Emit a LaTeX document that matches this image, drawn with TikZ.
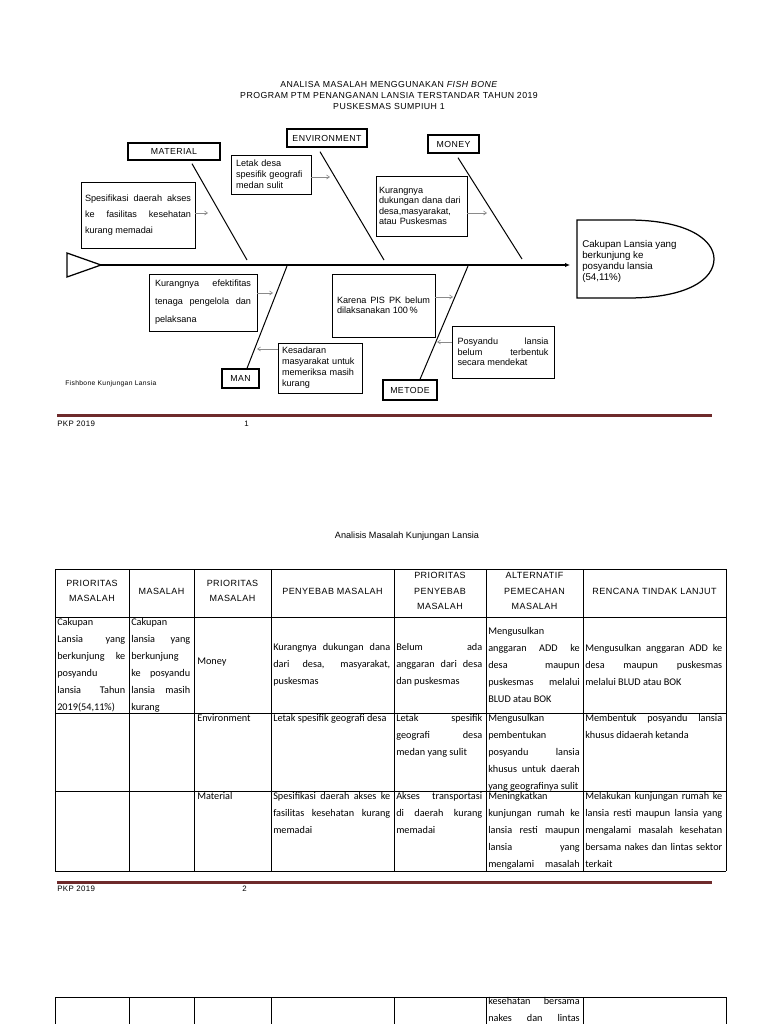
\documentclass[tikz,border=0pt]{standalone}
\usepackage{fontspec}
\setmainfont{Liberation Sans}
\newfontfamily\tableFont{Carlito}
\newfontfamily\spacedFont{Liberation Sans}[LetterSpace=5]
\usetikzlibrary{arrows.meta}
\definecolor{footerRed}{HTML}{6E2A2B}
\definecolor{arrowGray}{HTML}{8A8A8A}
\tolerance=9999
\hbadness=10000

\tikzset{
  catBox/.style={draw, line width=1.1pt, inner sep=0pt,
    font=\spacedFont\fontsize{7}{8}\selectfont},
  causeBox/.style={draw, line width=0.6pt, inner sep=0pt, align=justify,
    font=\fontsize{7.3}{8.8}\selectfont},
  bone/.style={line width=0.8pt},
  causeArrow/.style={draw=arrowGray, line width=0.5pt,
    -{Straight Barb[length=2.4pt,width=3.2pt]}},
  gridLine/.style={line width=0.8pt},
  headCell/.style={align=center, inner sep=0pt,
    font=\spacedFont\fontsize{7.2}{12.6}\selectfont},
  bodyCell/.style={align=justify, inner sep=0pt,
    font=\tableFont\fontsize{8.2}{13.6}\selectfont},
  pageRule/.style={draw=footerRed, line width=2.4pt},
  pageNote/.style={anchor=west, inner sep=0pt,
    font=\spacedFont\fontsize{6.3}{7}\selectfont}
}

\begin{document}
\begin{tikzpicture}[x=0.8pt, y=-0.8pt]
  \fill[white] (0,0) rectangle (768,1024);
  \useasboundingbox (0,0) rectangle (768,1024);

  % page 1: fishbone
  \node[align=center, inner sep=0pt, font=\spacedFont\fontsize{7}{8.8}\selectfont] (titleText) at (389,95)
    {ANALISA MASALAH MENGGUNAKAN \textit{FISH BONE}\\
     PROGRAM PTM PENANGANAN LANSIA TERSTANDAR TAHUN 2019\\
     PUSKESMAS SUMPIUH 1};

  \draw[line width=1pt] (67,253) -- (101,265) -- (67,277) -- cycle;
  \coordinate (tailTip) at (101,265);
  \coordinate (headLeft) at (577,265);
  \draw[line width=1.1pt, -{Latex[length=4pt,width=3.6pt]}, shorten >=5.6pt] (tailTip) -- (headLeft);

  \draw[line width=1pt] (577,220) -- (628,220)
    .. controls (688,220) and (714,240) .. (714,259)
    .. controls (714,279) and (688,298) .. (628,298)
    -- (577,298) -- cycle;
  \node[anchor=west, align=left, inner sep=0pt, font=\fontsize{7.8}{8.8}\selectfont] (effectText) at (582,261)
    {Cakupan Lansia yang\\berkunjung ke\\posyandu lansia\\(54,11\%)};

  \node[catBox, minimum width=73.6pt, minimum height=13.6pt] (matBox) at (174,151.5) {MATERIAL};
  \node[catBox, minimum width=64pt, minimum height=14.4pt] (envBox) at (327,138) {ENVIRONMENT};
  \node[catBox, minimum width=40.8pt, minimum height=14.4pt] (monBox) at (453.5,144) {MONEY};
  \node[catBox, minimum width=29.6pt, minimum height=15.2pt] (manBox) at (240.5,378.5) {MAN};
  \node[catBox, minimum width=43.2pt, minimum height=16pt] (metBox) at (410,390) {METODE};

  \coordinate (matRoot) at (247,260);
  \coordinate (envRoot) at (384,260);
  \coordinate (monRoot) at (522,259);
  \coordinate (manRoot) at (287,266);
  \coordinate (metRoot) at (468,266);
  \draw[bone] ([xshift=14.4pt,yshift=-2.4pt]matBox.south) -- (matRoot);
  \draw[bone] ([xshift=-5.6pt,yshift=-3.2pt]envBox.south) -- (envRoot);
  \draw[bone] ([xshift=3.6pt,yshift=-3.2pt]monBox.south) -- (monRoot);
  \draw[bone] (manRoot) -- ([xshift=5.2pt]manBox.north);
  \draw[bone] (metRoot) -- ([xshift=8pt]metBox.north);

  \node[causeBox, minimum width=91.2pt, minimum height=52.8pt, text width=84.8pt,
        font=\fontsize{7.3}{12.8}\selectfont] (spesBox) at (138,215)
    {Spesifikasi daerah akses\linebreak ke fasilitas kesehatan\linebreak kurang memadai};
  \node[causeBox, align=left, minimum width=64pt, minimum height=31.2pt, text width=56pt] (letakBox) at (271,174.5)
    {Letak desa\\spesifik geografi\\medan sulit};
  \node[causeBox, align=left, minimum width=72.8pt, minimum height=48pt, text width=68pt,
        font=\fontsize{7.3}{8.4}\selectfont] (kurBox) at (421.5,206)
    {Kurangnya\\dukungan dana dari\\desa,masyarakat,\\atau Puskesmas};
  \node[causeBox, minimum width=86.4pt, minimum height=45.6pt, text width=76.8pt,
        font=\fontsize{7.3}{14.4}\selectfont] (efekBox) at (203,302.5)
    {Kurangnya efektifitas\linebreak tenaga pengelola dan\linebreak pelaksana};
  \node[causeBox, minimum width=82.4pt, minimum height=50.4pt, text width=74.4pt,
        font=\fontsize{7.3}{8.2}\selectfont] (karenaBox) at (383.5,305.5)
    {Karena PIS PK belum\linebreak dilaksanakan 100\,\%};
  \node[causeBox, align=left, minimum width=67.2pt, minimum height=40pt, text width=60.8pt] (kesBox) at (320,368)
    {Kesadaran\\masyarakat untuk\\memeriksa masih\\kurang};
  \node[causeBox, minimum width=81.6pt, minimum height=41.6pt, text width=72.8pt,
        font=\fontsize{7.3}{8.4}\selectfont] (posBox) at (503,352)
    {Posyandu lansia\linebreak belum terbentuk\linebreak secara mendekat};

  \coordinate (spesHit) at (208,213);
  \coordinate (letakHit) at (330,177);
  \coordinate (kurHit) at (487,213);
  \coordinate (efekHit) at (273,293);
  \coordinate (karenaHit) at (453,297);
  \coordinate (kesHit) at (257,349);
  \coordinate (posHit) at (437,342);
  \draw[causeArrow] (spesBox.east |- spesHit) -- (spesHit);
  \draw[causeArrow] (letakBox.east |- letakHit) -- (letakHit);
  \draw[causeArrow] (kurBox.east |- kurHit) -- (kurHit);
  \draw[causeArrow] (efekBox.east |- efekHit) -- (efekHit);
  \draw[causeArrow] (karenaBox.east |- karenaHit) -- (karenaHit);
  \draw[causeArrow] (kesBox.west |- kesHit) -- (kesHit);
  \draw[causeArrow] (posBox.west |- posHit) -- (posHit);

  \node[anchor=west, inner sep=0pt, font=\spacedFont\fontsize{5.4}{6}\selectfont] (fishNote) at (65,384)
    {Fishbone Kunjungan Lansia};

  \draw[pageRule] (57,415) -- (712,415);
  \node[pageNote] (pkpOne) at (57,424) {PKP 2019};
  \node[pageNote] (pageOne) at (244,424) {1};

  % page 2: table
  \node[inner sep=0pt, font=\fontsize{7.3}{8}\selectfont] (tableTitle) at (407,536)
    {Analisis Masalah Kunjungan Lansia};

  \draw[gridLine] (55,569) -- (726,569) (55,617) -- (726,617) (55,713) -- (726,713)
    (55,791) -- (726,791) (55,871) -- (726,871);
  \draw[gridLine] (55,569) -- (55,871) (129,569) -- (129,871) (194,569) -- (194,871)
    (271,569) -- (271,871) (394,569) -- (394,871) (486,569) -- (486,871)
    (583,569) -- (583,871) (726,569) -- (726,871);

  \node[headCell] (h1) at (92,591) {PRIORITAS\\MASALAH};
  \node[headCell] (h2) at (161.5,591) {MASALAH};
  \node[headCell] (h3) at (232.5,591) {PRIORITAS\\MASALAH};
  \node[headCell] (h4) at (332.5,591) {PENYEBAB MASALAH};
  \node[headCell] (h5) at (440,591) {PRIORITAS\\PENYEBAB\\MASALAH};
  \node[headCell] (h6) at (534.5,591) {ALTERNATIF\\PEMECAHAN\\MASALAH};
  \node[headCell] (h7) at (654.5,591) {RENCANA TINDAK LANJUT};

  \node[bodyCell, anchor=west, text width=54.4pt] (r1c1) at (57,665)
    {Cakupan\linebreak Lansia yang\linebreak berkunjung ke\linebreak posyandu\linebreak lansia Tahun\linebreak 2019(54,11\%)};
  \node[bodyCell, anchor=west, text width=47.2pt] (r1c2) at (131,665)
    {Cakupan\linebreak lansia yang\linebreak berkunjung\linebreak ke posyandu\linebreak lansia masih\linebreak kurang};
  \node[bodyCell, anchor=west, text width=56pt] (r1c3) at (197,662) {Money};
  \node[bodyCell, anchor=west, text width=93.6pt] (r1c4) at (273,665)
    {Kurangnya dukungan dana\linebreak dari desa, masyarakat,\linebreak puskesmas};
  \node[bodyCell, anchor=west, text width=68.8pt] (r1c5) at (396,665)
    {Belum ada\linebreak anggaran dari desa\linebreak dan puskesmas};
  \node[bodyCell, anchor=west, text width=73.2pt] (r1c6) at (488,665)
    {Mengusulkan\linebreak anggaran ADD ke\linebreak desa maupun\linebreak puskesmas melalui\linebreak BLUD atau BOK};
  \node[bodyCell, anchor=west, text width=109.6pt] (r1c7) at (585,665)
    {Mengusulkan anggaran ADD ke\linebreak desa maupun puskesmas\linebreak melalui BLUD atau BOK};

  \node[bodyCell, anchor=north west, text width=56pt] (r2c3) at (197,714.5) {Environment};
  \node[bodyCell, anchor=north west, text width=93.6pt] (r2c4) at (273,714.5)
    {Letak spesifik geografi desa};
  \node[bodyCell, anchor=north west, text width=68.8pt] (r2c5) at (396,714.5)
    {Letak spesifik\linebreak geografi desa\linebreak medan yang sulit};
  \node[bodyCell, anchor=north west, text width=73.2pt] (r2c6) at (488,714.5)
    {Mengusulkan\linebreak pembentukan\linebreak posyandu lansia\linebreak khusus untuk daerah\linebreak yang geografinya sulit};
  \node[bodyCell, anchor=north west, text width=109.6pt] (r2c7) at (585,714.5)
    {Membentuk posyandu lansia\linebreak khusus didaerah ketanda};

  \node[bodyCell, anchor=north west, text width=56pt] (r3c3) at (197,792.5) {Material};
  \node[bodyCell, anchor=north west, text width=93.6pt] (r3c4) at (273,792.5)
    {Spesifikasi daerah akses ke\linebreak fasilitas kesehatan kurang\linebreak memadai};
  \node[bodyCell, anchor=north west, text width=68.8pt] (r3c5) at (396,792.5)
    {Akses transportasi\linebreak di daerah kurang\linebreak memadai};
  \node[bodyCell, anchor=north west, text width=73.2pt] (r3c6) at (488,792.5)
    {Meningkatkan\linebreak kunjungan rumah ke\linebreak lansia resti maupun\linebreak lansia yang\linebreak mengalami\hfill masalah};
  \node[bodyCell, anchor=north west, text width=109.6pt] (r3c7) at (585,792.5)
    {Melakukan kunjungan rumah ke\linebreak lansia resti maupun lansia yang\linebreak mengalami masalah kesehatan\linebreak bersama nakes dan lintas sektor\linebreak terkait};

  \draw[pageRule] (57,882) -- (712,882);
  \node[pageNote] (pkpTwo) at (57,889) {PKP 2019};
  \node[pageNote] (pageTwo) at (242,889) {2};

  % page 3: table continued
  \draw[gridLine] (55,997) -- (726,997);
  \draw[gridLine] (55,997) -- (55,1024) (129,997) -- (129,1024) (194,997) -- (194,1024)
    (271,997) -- (271,1024) (394,997) -- (394,1024) (486,997) -- (486,1024)
    (583,997) -- (583,1024) (726,997) -- (726,1024);
  \node[bodyCell, anchor=north west, text width=73.2pt] (r4c6) at (488,997.5)
    {kesehatan bersama\linebreak nakes\hfill dan\hfill lintas};
\end{tikzpicture}
\end{document}
